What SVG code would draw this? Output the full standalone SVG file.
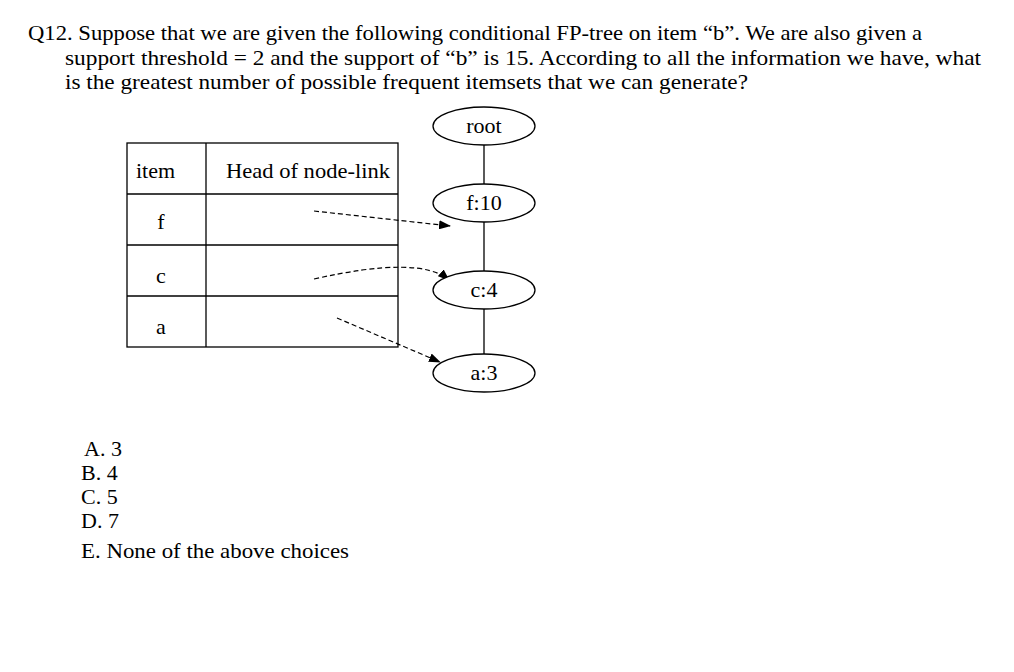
<svg xmlns="http://www.w3.org/2000/svg" width="1014" height="672" viewBox="0 0 1014 672">
<style>
text{font-family:"Liberation Serif","Times New Roman",serif;font-size:22px;fill:#000}
.n{fill:#fff;stroke:#000;stroke-width:1.3}
.l{stroke:#000;stroke-width:1.3;fill:none}
.d{stroke:#000;stroke-width:1.2;fill:none;stroke-dasharray:5,3}
.c{text-anchor:middle}
</style>
<defs><marker id="ar" markerWidth="12" markerHeight="9" refX="11" refY="4.5" orient="auto" markerUnits="userSpaceOnUse"><path d="M0,0L12,4.5L0,9z" fill="#000"/></marker></defs>
<rect width="1014" height="672" fill="#fff"/>
<g id="question">
<text x="28" y="40" textLength="894" lengthAdjust="spacingAndGlyphs">Q12. Suppose that we are given the following conditional FP-tree on item “b”. We are also given a</text>
<text x="65" y="65" textLength="916" lengthAdjust="spacingAndGlyphs">support threshold = 2 and the support of “b” is 15. According to all the information we have, what</text>
<text x="65" y="89" textLength="683" lengthAdjust="spacingAndGlyphs">is the greatest number of possible frequent itemsets that we can generate?</text>
</g>
<g id="table">
<rect class="l" x="127" y="143" width="271" height="204"/>
<line class="l" x1="206" y1="143" x2="206" y2="347"/>
<line class="l" x1="127" y1="194" x2="398" y2="194"/>
<line class="l" x1="127" y1="245" x2="398" y2="245"/>
<line class="l" x1="127" y1="296" x2="398" y2="296"/>
<text x="136" y="178">item</text>
<text x="226" y="178" textLength="164" lengthAdjust="spacingAndGlyphs">Head of node-link</text>
<text class="c" x="161" y="229">f</text>
<text class="c" x="161" y="283">c</text>
<text class="c" x="161" y="334">a</text>
</g>
<g id="connectors">
<line class="l" x1="484" y1="144" x2="484" y2="185"/>
<line class="l" x1="484" y1="221" x2="484" y2="272"/>
<line class="l" x1="484" y1="308" x2="484" y2="355"/>
<path class="d" d="M314,211L450,226" marker-end="url(#ar)"/>
<path class="d" d="M314,279Q420,255 449,280" marker-end="url(#ar)"/>
<path class="d" d="M337,318L440,362" marker-end="url(#ar)"/>
</g>
<g id="root"><ellipse class="n" cx="484" cy="126" rx="51" ry="19"/><text class="c" x="484" y="133">root</text></g>
<g id="f10"><ellipse class="n" cx="484" cy="203" rx="51" ry="19"/><text class="c" x="484" y="210">f:10</text></g>
<g id="c4"><ellipse class="n" cx="484" cy="290" rx="51" ry="19"/><text class="c" x="484" y="297">c:4</text></g>
<g id="a3"><ellipse class="n" cx="484" cy="373" rx="51" ry="19"/><text class="c" x="484" y="380">a:3</text></g>
<g id="choices">
<text x="84" y="456">A. 3</text>
<text x="81" y="480">B. 4</text>
<text x="81" y="504">C. 5</text>
<text x="81" y="528">D. 7</text>
<text x="81" y="558" textLength="268" lengthAdjust="spacingAndGlyphs">E.  None of the above choices</text>
</g>
</svg>
